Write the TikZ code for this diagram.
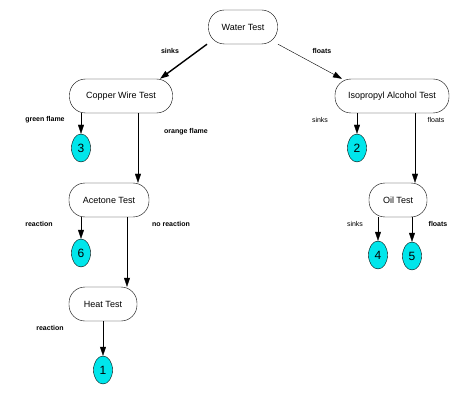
\documentclass[tikz,border=0pt]{standalone}
\usepackage{fontspec}
\setmainfont{Liberation Sans}
\usetikzlibrary{arrows.meta,shapes.geometric}
\definecolor{leafc}{RGB}{0,230,235}
\begin{document}
\begin{tikzpicture}[x=1pt,y=-1pt,
  test/.style={draw,rounded corners=16pt,minimum height=34pt,inner sep=0pt,font=\fontsize{9}{10}\selectfont},
  leaf/.style={draw,ellipse,fill=leafc,minimum width=19pt,minimum height=28pt,inner sep=0pt,font=\fontsize{12}{12}\selectfont},
  arr/.style={draw=black!75,-{Triangle[length=9pt,width=6pt]},black},
  lb/.style={font=\fontsize{7}{8}\selectfont\bfseries},
  ln/.style={font=\fontsize{7}{8}\selectfont}]
\useasboundingbox (0,0) rectangle (474,409);
\node[test,minimum width=69pt] (water) at (243,27) {Water Test};
\node[test,minimum width=103pt] (copper) at (121,96) {Copper Wire Test};
\node[test,minimum width=114pt] (iso) at (392,96) {Isopropyl Alcohol Test};
\node[test,minimum width=80pt] (acetone) at (109,200) {Acetone Test};
\node[test,minimum width=58pt] (oil) at (398,200) {Oil Test};
\node[test,minimum width=68pt] (heat) at (103,304) {Heat Test};
\node[leaf] (n3) at (81,148) {3};
\node[leaf] (n2) at (357,148) {2};
\node[leaf] (n6) at (81,253) {6};
\node[leaf] (n4) at (378,255) {4};
\node[leaf] (n5) at (412,256) {5};
\node[leaf] (n1) at (103,370) {1};
\draw[arr,line width=1.4pt] ([xshift=-36pt]water.south) -- ([xshift=39pt]copper.north);
\draw[arr] ([xshift=35pt]water.south) -- ([xshift=-50pt]iso.north);
\draw[arr] (copper.south -| n3) -- (n3);
\draw[arr] ([xshift=17pt]copper.south) -- ([xshift=17pt]copper.south |- acetone.north);
\draw[arr] (iso.south -| n2) -- (n2);
\draw[arr] ([xshift=23pt]iso.south) -- ([xshift=23pt]iso.south |- oil.north);
\draw[arr] (acetone.south -| n6) -- (n6);
\draw[arr] ([xshift=18pt]acetone.south) -- ([xshift=18pt]acetone.south |- heat.north);
\draw[arr] (oil.south -| n4) -- (n4);
\draw[arr] (oil.south -| n5) -- (n5);
\draw[arr] (heat.south -| n1) -- (n1);
\node[lb] (l1) at (170,51) {sinks};
\node[lb] (l2) at (322,51) {floats};
\node[lb] (l3) at (45,120) {green flame};
\node[lb] (l4) at (186,132) {orange flame};
\node[ln] (l5) at (320,120) {sinks};
\node[ln] (l6) at (436,120) {floats};
\node[lb] (l7) at (39,224) {reaction};
\node[lb] (l8) at (171,224) {no reaction};
\node[ln] (l9) at (355,224) {sinks};
\node[lb] (l10) at (438,224) {floats};
\node[lb] (l11) at (50,328) {reaction};
\end{tikzpicture}
\end{document}
